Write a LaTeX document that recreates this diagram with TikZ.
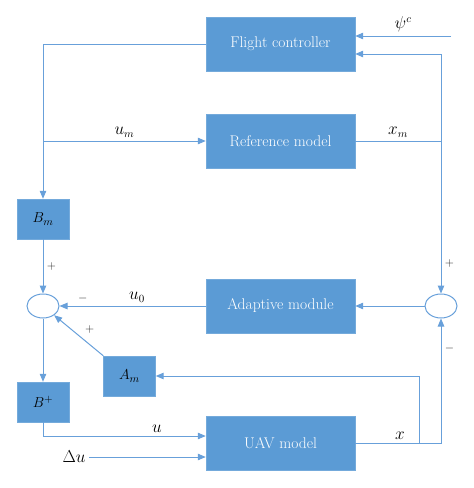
\documentclass[tikz,border=0pt]{standalone}
\usepackage{tikz}
\usetikzlibrary{positioning,arrows.meta,shapes.geometric,calc}
\definecolor{boxblue}{RGB}{91,155,213}
\definecolor{lineblue}{RGB}{104,160,218}
\begin{document}
\begin{tikzpicture}[
    x=1pt, y=-1pt,
    block/.style={fill=boxblue, draw=boxblue!85!white, rectangle, minimum width=149pt, minimum height=54pt, align=center, text=white, font=\fontsize{15.5}{18}\selectfont},
    gain/.style={fill=boxblue, draw=boxblue!85!white, rectangle, minimum width=52pt, minimum height=40pt, font=\fontsize{15.5}{18}\selectfont},
    sum/.style={draw=lineblue, ellipse, line width=1pt, minimum width=32pt, minimum height=24pt, inner sep=0pt},
    arrow/.style={-{Triangle[length=8pt, width=6.5pt]}, draw=lineblue, line width=1pt},
    sig/.style={font=\fontsize{16}{18}\selectfont},
    sgn/.style={font=\fontsize{12}{13}\selectfont, text=black!85}
]
\useasboundingbox (0,0) rectangle (474,488);

% Bloques principales
\node[block] (fc) at (280.5,44) {Flight controller};
\node[block] (ref) at (280.5,141) {Reference model};
\node[block] (adapt) at (280.5,306) {Adaptive module};
\node[block] (uav) at (280.5,443.5) {UAV model};

% Ganancias
\node[gain] (bm) at (43,219) {$B_m$};
\node[gain] (am) at (129.5,376) {$A_m$};
\node[gain] (bplus) at (43,402) {$B^{+}$};

% Sumadores
\node[sum] (sumL) at (43,306) {};
\node[sum] (sumR) at (441,306) {};

% Entradas
\coordinate (psi) at (451,36);
\node[sig] (du) at (74,457) {$\Delta u$};

% Conexiones
\draw[arrow] (psi) -- ([yshift=8pt]fc.east) node[midway, above, sig] {$\psi^{c}$};
\draw[arrow] (fc.west) -| (bm.north);
\coordinate (umj) at (bm.north |- ref.west);
\draw[arrow] (umj) -- (ref.west) node[midway, above, sig] {$u_m$};
\draw[arrow] (ref.east) -| (sumR.north) node[pos=0.25, above, sig] {$x_m$}
    node[pos=0.9, right, sgn] {$+$};
\coordinate (xmj) at (sumR.north |- ref.east);
\draw[arrow] (xmj) |- ([yshift=-10pt]fc.east);
\draw[arrow] (bm.south) -- (sumL.north) node[midway, right, sgn] {$+$};
\draw[arrow] (adapt.west) -- (sumL.east) node[pos=0.47, above, sig] {$u_0$}
    node[pos=0.84, above, sgn] {$-$};
\draw[arrow] (sumR.west) -- (adapt.east);
\draw[arrow] (sumL.south) -- (bplus.north);
\draw[arrow] (am.north west) -- (sumL) node[pos=0.45, above right, sgn] {$+$};
\draw[arrow] (bplus.south) |- ([yshift=7.5pt]uav.west) node[pos=0.85, above, sig] {$u$};
\draw[arrow] (du.east) -- (du.east -| uav.west);
\draw[arrow] (uav.east) -| (sumR.south) node[pos=0.26, above, sig] {$x$}
    node[pos=0.88, right, sgn] {$-$};
\coordinate (xj) at (419,443.5);
\draw[arrow] (xj) |- (am.east);

\end{tikzpicture}
\end{document}
